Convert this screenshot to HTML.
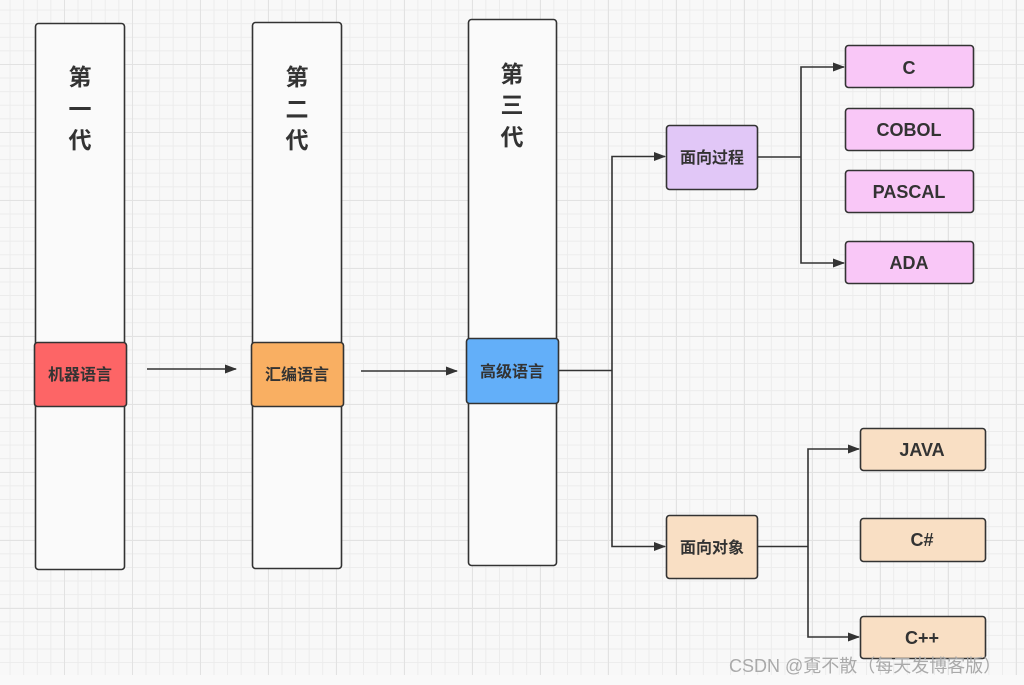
<!DOCTYPE html>
<html><head><meta charset="utf-8"><style>
html,body{margin:0;padding:0;}
body{width:1024px;height:685px;overflow:hidden;background:#f9f9f9;}
.bg{position:absolute;left:0;top:0;width:1024px;height:675px;
background-color:#f8f8f8;
background-image:linear-gradient(#e2e2e2 1px,transparent 1px),linear-gradient(90deg,#e2e2e2 1px,transparent 1px),linear-gradient(#ececec 1px,transparent 1px),linear-gradient(90deg,#ececec 1px,transparent 1px);
background-size:68px 68px,68px 68px,13.6px 13.6px,13.6px 13.6px;background-position:-4px -4px;}
svg{position:absolute;left:0;top:0;}
text{font-family:"Liberation Sans","Noto Sans CJK SC",sans-serif;font-weight:bold;fill:#333;}
</style></head><body><div class="bg"></div>
<svg width="1024" height="685" viewBox="0 0 1024 685">
<defs><marker id="a" markerWidth="12" markerHeight="9" refX="11" refY="4.5" orient="auto" markerUnits="userSpaceOnUse"><path d="M0,0 L12,4.5 L0,9 Z" fill="#333"/></marker></defs>
<g stroke="#333" stroke-width="1.6">
<rect x="35.5" y="23.5" width="89" height="546" rx="3" fill="#fafafa"/>
<rect x="252.5" y="22.5" width="89" height="546" rx="3" fill="#fafafa"/>
<rect x="468.5" y="19.5" width="88" height="546" rx="3" fill="#fafafa"/>
<rect x="34.5" y="342.5" width="92" height="64" rx="3" fill="#fd6566"/>
<rect x="251.5" y="342.5" width="92" height="64" rx="3" fill="#f9af62"/>
<rect x="466.5" y="338.5" width="92" height="65" rx="3" fill="#63aff9"/>
<rect x="666.5" y="125.5" width="91" height="64" rx="3" fill="#e1c7f7"/>
<rect x="666.5" y="515.5" width="91" height="63" rx="3" fill="#f9dfc4"/>
<rect x="845.5" y="45.5" width="128" height="42" rx="3" fill="#f9c7f7"/>
<rect x="845.5" y="108.5" width="128" height="42" rx="3" fill="#f9c7f7"/>
<rect x="845.5" y="170.5" width="128" height="42" rx="3" fill="#f9c7f7"/>
<rect x="845.5" y="241.5" width="128" height="42" rx="3" fill="#f9c7f7"/>
<rect x="860.5" y="428.5" width="125" height="42" rx="3" fill="#f9dfc4"/>
<rect x="860.5" y="518.5" width="125" height="43" rx="3" fill="#f9dfc4"/>
<rect x="860.5" y="616.5" width="125" height="42" rx="3" fill="#f9dfc4"/>
<g fill="none">
<line x1="147" y1="369" x2="236" y2="369" marker-end="url(#a)"/>
<line x1="361" y1="371" x2="457" y2="371" marker-end="url(#a)"/>
<line x1="558" y1="370.5" x2="612" y2="370.5"/>
<polyline points="612,370 612,156.5 665,156.5" marker-end="url(#a)"/>
<polyline points="612,370 612,546.5 665,546.5" marker-end="url(#a)"/>
<line x1="757" y1="157" x2="801" y2="157"/>
<polyline points="801,157 801,67 844,67" marker-end="url(#a)"/>
<polyline points="801,157 801,263 844,263" marker-end="url(#a)"/>
<line x1="757" y1="546.5" x2="808" y2="546.5"/>
<polyline points="808,546 808,449 859,449" marker-end="url(#a)"/>
<polyline points="808,546 808,637 859,637" marker-end="url(#a)"/>
</g></g>
<g font-size="23" text-anchor="middle">
<text x="80" y="85">第</text><text x="80" y="117">一</text><text x="80" y="148">代</text>
<text x="297" y="85">第</text><text x="297" y="117">二</text><text x="297" y="148">代</text>
<text x="512" y="82">第</text><text x="512" y="113">三</text><text x="512" y="145">代</text>
</g>
<g font-size="16" text-anchor="middle">
<text x="80" y="380">机器语言</text>
<text x="297" y="380">汇编语言</text>
<text x="512" y="377">高级语言</text>
<text x="712" y="163">面向过程</text>
<text x="712" y="553">面向对象</text>
</g>
<g font-size="18" text-anchor="middle">
<text x="909" y="74">C</text>
<text x="909" y="136">COBOL</text>
<text x="909" y="198">PASCAL</text>
<text x="909" y="269">ADA</text>
<text x="922" y="456">JAVA</text>
<text x="922" y="546">C#</text>
<text x="922" y="644">C++</text>
</g>
<text x="729" y="672" font-size="18" style="font-weight:normal;fill:#aaa">CSDN @覔不散（每天发博客版）</text>
</svg>
</body></html>
